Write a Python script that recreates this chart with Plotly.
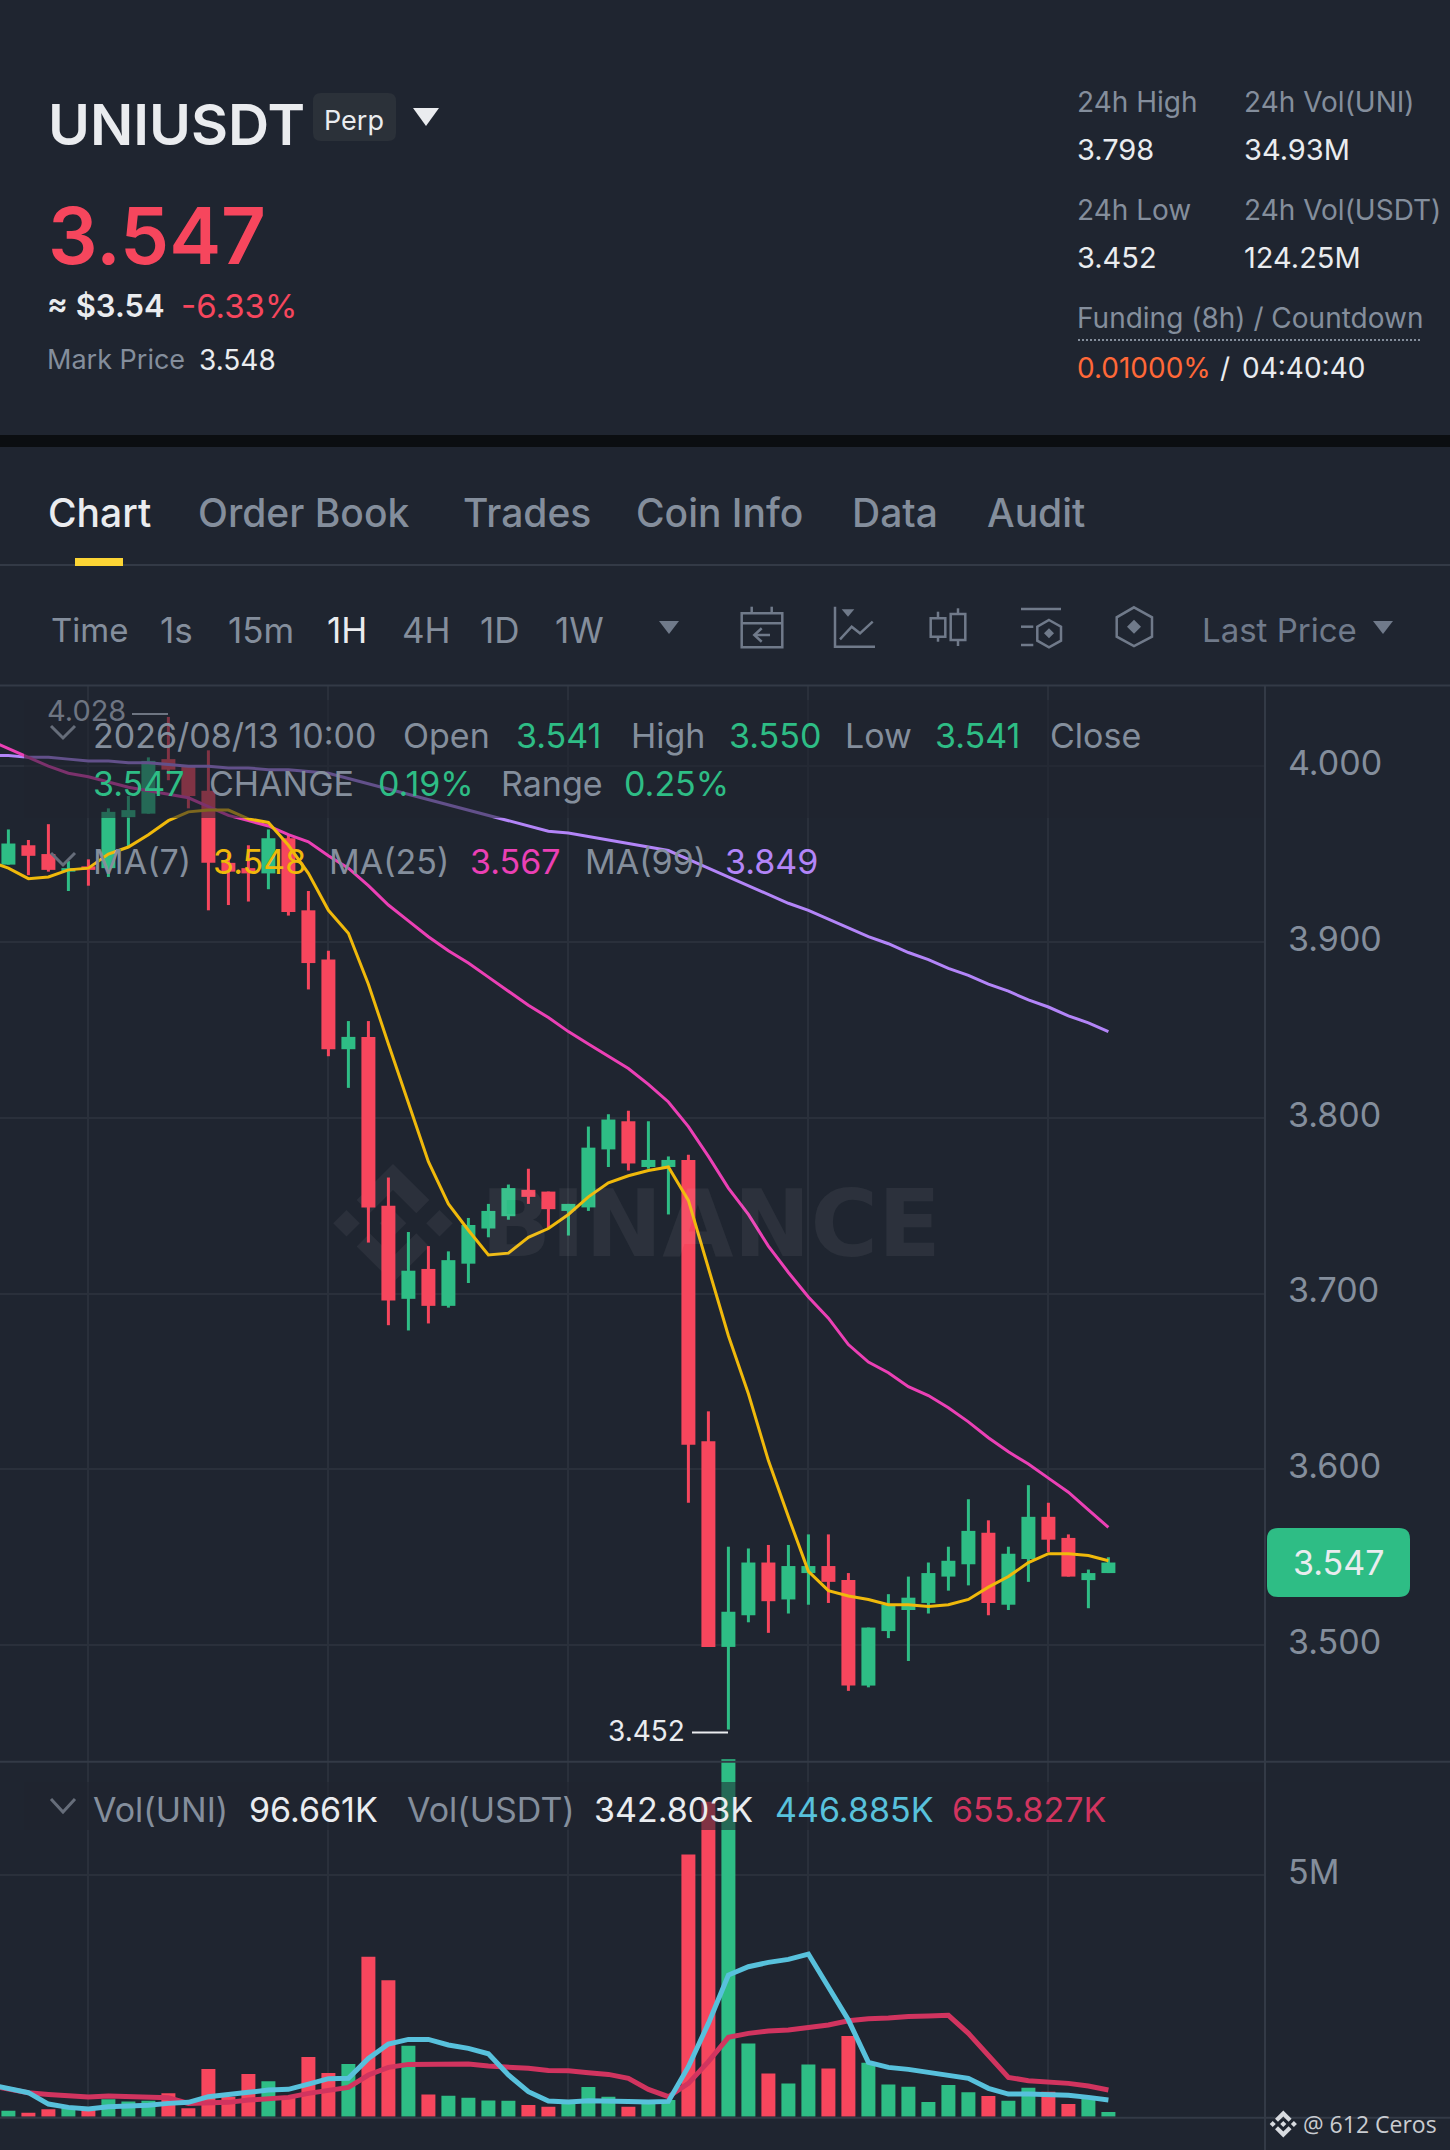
import plotly.graph_objects as go

W, H = 1450, 2150
BG = '#1f2530'
GRID = '#2a303b'
LINE = '#333a46'
GRAY = '#848e9c'
WHITE = '#eaecef'
RED = '#f6465d'
GREEN = '#2ebd85'
FONT = 'Inter'

# candles, oldest first
opens = [3.944, 3.955, 3.950, 3.940, 3.943, 3.942, 3.971, 3.973, 4.004, 4.000, 3.986, 3.945, 3.942, 3.939,
         3.959, 3.918, 3.890, 3.839, 3.846, 3.750, 3.697, 3.714, 3.693, 3.717, 3.737, 3.744, 3.759, 3.758,
         3.747, 3.749, 3.782, 3.798, 3.772, 3.772, 3.776, 3.616, 3.499, 3.517, 3.547, 3.526, 3.541, 3.545,
         3.537, 3.477, 3.508, 3.520, 3.524, 3.539, 3.546, 3.564, 3.523, 3.549, 3.573, 3.561, 3.537, 3.541]
highs = [3.964, 3.958, 3.967, 3.946, 3.947, 3.976, 3.983, 4.005, 4.028, 4.000, 4.009, 3.950, 3.955, 3.964,
         3.961, 3.929, 3.895, 3.855, 3.855, 3.766, 3.735, 3.727, 3.724, 3.743, 3.751, 3.762, 3.771, 3.758,
         3.751, 3.795, 3.802, 3.804, 3.798, 3.778, 3.779, 3.633, 3.556, 3.555, 3.557, 3.557, 3.563, 3.563,
         3.541, 3.510, 3.529, 3.539, 3.547, 3.556, 3.583, 3.571, 3.556, 3.591, 3.581, 3.563, 3.543, 3.550]
lows = [3.944, 3.938, 3.940, 3.929, 3.932, 3.937, 3.954, 3.973, 3.992, 3.976, 3.918, 3.921, 3.923, 3.930,
        3.915, 3.873, 3.835, 3.817, 3.729, 3.682, 3.679, 3.683, 3.692, 3.706, 3.732, 3.742, 3.751, 3.737,
        3.733, 3.747, 3.772, 3.770, 3.771, 3.745, 3.581, 3.499, 3.452, 3.513, 3.507, 3.518, 3.523, 3.524,
        3.474, 3.476, 3.504, 3.491, 3.518, 3.531, 3.534, 3.517, 3.520, 3.536, 3.553, 3.539, 3.521, 3.541]
closes = [3.956, 3.949, 3.941, 3.942, 3.941, 3.974, 3.975, 4.003, 3.998, 3.983, 3.945, 3.940, 3.939, 3.959,
          3.917, 3.888, 3.839, 3.846, 3.749, 3.696, 3.713, 3.693, 3.719, 3.739, 3.747, 3.760, 3.755, 3.748,
          3.751, 3.783, 3.799, 3.774, 3.776, 3.776, 3.614, 3.499, 3.519, 3.547, 3.525, 3.545, 3.545, 3.536,
          3.477, 3.510, 3.523, 3.527, 3.541, 3.548, 3.565, 3.524, 3.552, 3.573, 3.560, 3.539, 3.541, 3.547]

# moving averages start one candle earlier, it runs off the left edge
ma7 = [3.946, 3.942, 3.936, 3.937, 3.941, 3.942, 3.950, 3.954, 3.961, 3.969, 3.974, 3.975, 3.975, 3.970, 3.968,
       3.955, 3.939, 3.918, 3.905, 3.876, 3.842, 3.808, 3.775, 3.751, 3.736, 3.722, 3.723, 3.732, 3.737, 3.745,
       3.755, 3.763, 3.767, 3.770, 3.772, 3.753, 3.714, 3.676, 3.643, 3.605, 3.573, 3.542, 3.531, 3.528, 3.526,
       3.523, 3.523, 3.522, 3.523, 3.526, 3.533, 3.539, 3.547, 3.552, 3.552, 3.551, 3.548]
ma25 = [4.015, 4.010, 4.005, 4.000, 3.996, 3.994, 3.991, 3.988, 3.986, 3.984, 3.982, 3.977, 3.972, 3.969, 3.966,
        3.961, 3.957, 3.949, 3.942, 3.932, 3.921, 3.912, 3.903, 3.895, 3.888, 3.880, 3.872, 3.864, 3.857, 3.849,
        3.842, 3.835, 3.828, 3.819, 3.809, 3.795, 3.778, 3.760, 3.745, 3.727, 3.712, 3.698, 3.686, 3.671, 3.661,
        3.655, 3.647, 3.642, 3.635, 3.627, 3.618, 3.610, 3.603, 3.595, 3.587, 3.577, 3.567]
ma99 = [4.006, 4.006, 4.005, 4.005, 4.004, 4.003, 4.003, 4.002, 4.002, 4.001, 4.000, 4.000, 3.999, 3.999, 3.998,
        3.998, 3.997, 3.996, 3.993, 3.990, 3.987, 3.984, 3.981, 3.978, 3.975, 3.972, 3.969, 3.966, 3.963, 3.962,
        3.960, 3.958, 3.956, 3.954, 3.952, 3.947, 3.942, 3.937, 3.932, 3.927, 3.922, 3.918, 3.913, 3.908, 3.903,
        3.899, 3.894, 3.890, 3.885, 3.881, 3.876, 3.872, 3.867, 3.863, 3.858, 3.854, 3.849]

# volume in millions
volume = [0.124, 0.083, 0.152, 0.22, 0.173, 0.359, 0.317, 0.331, 0.483, 0.173, 0.987, 0.414, 0.883, 0.732,
          0.40, 1.235, 0.904, 1.09, 3.313, 2.823, 1.47, 0.462, 0.435, 0.393, 0.338, 0.331, 0.242, 0.207,
          0.276, 0.614, 0.414, 0.207, 0.276, 0.345, 5.431, 6.522, 7.40, 1.518, 0.897, 0.69, 1.083, 1.0,
          1.67, 1.118, 0.669, 0.621, 0.304, 0.656, 0.504, 0.428, 0.331, 0.60, 0.518, 0.262, 0.414, 0.097]
vol_ma_fast = [0.669, 0.587, 0.497, 0.262, 0.193, 0.159, 0.207, 0.221, 0.235, 0.276, 0.297, 0.414, 0.449, 0.504, 0.552,
               0.566, 0.676, 0.787, 0.794, 1.208, 1.504, 1.601, 1.601, 1.484, 1.415, 1.304, 0.863, 0.518, 0.324, 0.304,
               0.331, 0.331, 0.317, 0.304, 0.317, 1.035, 1.932, 2.933, 3.106, 3.195, 3.257, 3.368, 2.692, 2.001, 1.125,
               1.021, 0.98, 0.925, 0.863, 0.794, 0.587, 0.469, 0.469, 0.455, 0.442, 0.40, 0.345]
vol_ma_slow = [0.649, 0.566, 0.497, 0.462, 0.428, 0.407, 0.428, 0.414, 0.414, 0.393, 0.276, 0.29, 0.297, 0.345, 0.38,
               0.40, 0.483, 0.538, 0.607, 0.863, 1.021, 1.083, 1.077, 1.077, 1.09, 1.049, 1.035, 1.001, 0.959, 0.952,
               0.911, 0.876, 0.794, 0.566, 0.414, 0.69, 1.139, 1.643, 1.725, 1.774, 1.794, 1.85, 1.898, 1.988, 2.029,
               2.043, 2.077, 2.084, 2.098, 1.725, 1.277, 0.814, 0.745, 0.725, 0.69, 0.635, 0.552]

price_ticks = [4.0, 3.9, 3.8, 3.7, 3.6, 3.5]
time_ticks = [4, 16, 28, 40, 52]
tabs = ['Chart', 'Order Book', 'Trades', 'Coin Info', 'Data', 'Audit']
intervals = ['Time', '1s', '15m', '1H', '4H', '1D', '1W']

candle_x = list(range(len(opens)))
ma_x = list(range(-1, len(opens)))
candle_colors = [GREEN if c >= o else RED for o, c in zip(opens, closes)]


def px(x):
    return x / W


def py(y):
    return 1 - y / H


annotations = []
shapes = []


def label(x, y, text, size=28, color=GRAY, weight=400, anchor='left', family=FONT):
    if anchor == 'left':
        x -= 2
    annotations.append(dict(x=px(x), y=py(y), xref='paper', yref='paper', text=text, showarrow=False,
                            xanchor=anchor, yanchor='middle', borderpad=0,
                            font=dict(family=family, size=size, color=color, weight=weight)))


def rect(x0, y0, x1, y1, color, layer='above', radius=0):
    if radius:
        r = radius
        path = (f'M {px(x0 + r)},{py(y0)} L {px(x1 - r)},{py(y0)} Q {px(x1)},{py(y0)} {px(x1)},{py(y0 + r)} '
                f'L {px(x1)},{py(y1 - r)} Q {px(x1)},{py(y1)} {px(x1 - r)},{py(y1)} '
                f'L {px(x0 + r)},{py(y1)} Q {px(x0)},{py(y1)} {px(x0)},{py(y1 - r)} '
                f'L {px(x0)},{py(y0 + r)} Q {px(x0)},{py(y0)} {px(x0 + r)},{py(y0)} Z')
        shapes.append(dict(type='path', xref='paper', yref='paper', path=path, fillcolor=color, line_width=0, layer=layer))
    else:
        shapes.append(dict(type='rect', xref='paper', yref='paper', x0=px(x0), y0=py(y0), x1=px(x1), y1=py(y1),
                           fillcolor=color, line_width=0, layer=layer))


def poly(points, color=None, line=None, width=2.5, close=False, layer='above', dash=None):
    path = 'M ' + ' L '.join(f'{px(x)},{py(y)}' for x, y in points) + (' Z' if close else '')
    shapes.append(dict(type='path', xref='paper', yref='paper', path=path, layer=layer,
                       fillcolor=color if color else 'rgba(0,0,0,0)',
                       line=dict(color=line if line else 'rgba(0,0,0,0)', width=width if line else 0, dash=dash)))


def binance_logo(cx, cy, s, color, layer):
    # 59.3 is the half height of the big watermark mark
    k = s / 59.3

    def pts(rows):
        return [(cx + a * k, cy + b * k) for a, b in rows]

    for dx in (-46.5, 0, 46.5):
        poly(pts([(dx - 13.3, 0), (dx, -13.3), (dx + 13.3, 0), (dx, 13.3)]), color=color, layer=layer)
    chevron = [(0, -59.3), (36.3, -23.3), (23.3, -10), (0, -33.3), (-23.3, -10), (-36.3, -23.3)]
    poly(pts(chevron), color=color, layer=layer)
    poly(pts([(a, -b) for a, b in chevron]), color=color, layer=layer)


# header
label(49, 124, 'UNIUSDT', 57, WHITE, 600)
rect(313, 93, 396, 141, '#2b3139', radius=8)
label(325, 120, 'Perp', 27, WHITE)
poly([(413, 108), (439, 108), (426, 126)], color=WHITE)
label(49, 235, '3.547', 78, RED, 600)
label(48, 306, '≈ $3.54', 31, WHITE, 600)
label(182, 306, '-6.33%', 33, RED)
label(48, 360, 'Mark Price', 27)
label(200, 360, '3.548', 28, WHITE)

label(1078, 102, '24h High', 28)
label(1245, 102, '24h Vol(UNI)', 28)
label(1078, 149, '3.798', 29, WHITE)
label(1245, 149, '34.93M', 29, WHITE)
label(1078, 210, '24h Low', 28)
label(1245, 210, '24h Vol(USDT)', 28)
label(1078, 257, '3.452', 29, WHITE)
label(1245, 257, '124.25M', 29, WHITE)
label(1078, 318, 'Funding (8h) / Countdown', 28)
poly([(1078, 340), (1422, 340)], line=GRAY, width=2, dash='2px,2px')
label(1078, 368, '0.01000%', 28, '#ff6838')
label(1221, 368, '/', 28, WHITE)
label(1243, 368, '04:40:40', 28, WHITE)

rect(0, 435, W, 447, '#0b0e11')

# tabs and toolbar
for x, text in zip([49, 199, 464, 637, 853, 988], tabs):
    label(x, 512, text, 39, WHITE if text == 'Chart' else GRAY, 500)
rect(75, 558, 123, 566, '#fcd535')
rect(0, 564, 75, 566, LINE)
rect(123, 564, W, 566, LINE)

for x, text in zip([52, 161, 229, 328, 403, 481, 556], intervals):
    label(x, 630, text, 33 if text == 'Time' else 35, WHITE if text == '1H' else GRAY)
poly([(659, 621), (679, 621), (669, 634)], color='#707a8a')
label(1203, 630, 'Last Price', 33, '#707a8a')
poly([(1373, 621), (1393, 621), (1383, 634)], color='#707a8a')

ICON = '#707a8a'
poly([(741.7, 613.3), (782.3, 613.3), (782.3, 647.3), (741.7, 647.3)], line=ICON, close=True)
poly([(741.7, 623.3), (782.3, 623.3)], line=ICON)
poly([(751.7, 606.7), (751.7, 613.3)], line=ICON)
poly([(771.7, 606.7), (771.7, 613.3)], line=ICON)
poly([(770, 635), (755, 635)], line=ICON)
poly([(761.7, 628.3), (754.3, 635), (761.7, 641.7)], line=ICON)
poly([(835, 606.7), (835, 646.7), (875, 646.7)], line=ICON)
poly([(840, 639.3), (851.7, 626.7), (860, 633.3), (872.7, 621.7)], line=ICON)
poly([(841.7, 609.3), (854.3, 609.3), (848, 616.7)], color=ICON)
poly([(930.7, 618.3), (945.3, 618.3), (945.3, 636.7), (930.7, 636.7)], line=ICON, close=True)
poly([(938, 611.7), (938, 618.3)], line=ICON)
poly([(938, 636.7), (938, 641.7)], line=ICON)
poly([(950.7, 614), (965.3, 614), (965.3, 640), (950.7, 640)], line=ICON, close=True)
poly([(958, 608.3), (958, 614)], line=ICON)
poly([(958, 640), (958, 646)], line=ICON)
poly([(1021, 609), (1061, 609)], line=ICON)
poly([(1021, 626.7), (1033.3, 626.7)], line=ICON)
poly([(1021, 645), (1033.3, 645)], line=ICON)
poly([(1049, 620), (1061, 626.7), (1061, 640.7), (1049, 647.3), (1037.3, 640.7), (1037.3, 626.7)], line=ICON, close=True)
poly([(1049, 628.3), (1054, 633.3), (1049, 638.3), (1044, 633.3)], color=ICON)
poly([(1134, 607.3), (1152, 617.3), (1152, 636.7), (1134, 646), (1116.7, 636.7), (1116.7, 617.3)], line=ICON, close=True)
poly([(1134, 619.7), (1141, 626.7), (1134, 633.7), (1127, 626.7)], color=ICON)

# panel frame
rect(0, 684.5, W, 686.5, LINE)
rect(0, 1760.7, W, 1762.7, LINE)
rect(0, 2116.7, W, 2118.7, LINE)
rect(1264, 686, 1266, H, LINE)

# watermark
binance_logo(393, 1223.3, 59.3, '#2b303b', 'below')
label(482, 1224, 'BINANCE', 92, 'rgba(255,255,255,0.06)', 700, family='DejaVu Sans')

# legend rows sit on a half transparent strip
STRIP = 'rgba(31,37,48,0.55)'
rect(24, 700, 1264, 818, STRIP)
rect(24, 1782, 1264, 1830, STRIP)

label(48, 710, '4.028', 29, '#6e7582')
poly([(132, 714), (168, 714)], line='#6e7582', width=2)

for y in (0, 127):
    poly([(51, 726 + y), (63, 738 + y), (75, 726 + y)], line='#666d7a', width=3)
poly([(51, 1799), (63, 1812), (75, 1799)], line='#666d7a', width=3)

ROW = 34
for x, text, color in [(94, '2026/08/13 10:00', GRAY), (404, 'Open', GRAY), (517, '3.541', GREEN), (632, 'High', GRAY),
                       (730, '3.550', GREEN), (846, 'Low', GRAY), (936, '3.541', GREEN), (1051, 'Close', GRAY)]:
    label(x, 735, text, ROW, color)
for x, text, color in [(94, '3.547', GREEN), (210, 'CHANGE', GRAY), (379, '0.19%', GREEN), (502, 'Range', GRAY),
                       (625, '0.25%', GREEN)]:
    label(x, 783, text, ROW, color)
for x, text, color in [(94, 'MA(7)', GRAY), (214, '3.548', '#f0b90b'), (330, 'MA(25)', GRAY), (471, '3.567', '#eb40b5'),
                       (586, 'MA(99)', GRAY), (726, '3.849', '#b385f8')]:
    label(x, 861, text, ROW, color)
for x, text, color in [(94, 'Vol(UNI)', GRAY), (250, '96.661K', WHITE), (408, 'Vol(USDT)', GRAY), (595, '342.803K', WHITE),
                       (776, '446.885K', '#58c1dc'), (953, '655.827K', '#d1345f')]:
    label(x, 1809, text, ROW, color)

label(609, 1731, '3.452', 28, WHITE)
poly([(692, 1732.6), (728, 1732.6)], line=WHITE, width=2)

rect(1267, 1528, 1410, 1597, GREEN, radius=11)
label(1338.5, 1562, '3.547', 34, WHITE, anchor='center')

binance_logo(1283.3, 2124, 13.5, '#d8dbe0', 'above')
label(1303.5, 2124, '@ 612 Ceros', 23, '#c9ccd1', family='Open Sans')

fig = go.Figure()
# candles as floating bars, go.Candlestick body width cannot be set
fig.add_trace(go.Bar(x=candle_x, y=[h - l for h, l in zip(highs, lows)], base=lows, width=0.15,
                     marker=dict(color=candle_colors, line_width=0), xaxis='x', yaxis='y'))
fig.add_trace(go.Bar(x=candle_x, y=[abs(o - c) for o, c in zip(opens, closes)],
                     base=[min(o, c) for o, c in zip(opens, closes)], width=0.7,
                     marker=dict(color=candle_colors, line_width=0), xaxis='x', yaxis='y'))
for values, color in [(ma99, '#b385f8'), (ma25, '#eb40b5'), (ma7, '#f0b90b')]:
    fig.add_trace(go.Scatter(x=ma_x, y=values, mode='lines', line=dict(color=color, width=3), xaxis='x', yaxis='y'))

fig.add_trace(go.Bar(x=candle_x, y=volume, marker=dict(color=candle_colors, line_width=0), width=0.7, xaxis='x2', yaxis='y2'))
for values, color in [(vol_ma_slow, '#d1345f'), (vol_ma_fast, '#58c1dc')]:
    fig.add_trace(go.Scatter(x=ma_x, y=values, mode='lines', line=dict(color=color, width=5), xaxis='x2', yaxis='y2'))

x_range = [-0.42, 62.83]
axis_font = dict(family=FONT, size=34, color=GRAY)
fig.update_layout(
    width=W, height=H, autosize=False, showlegend=False, barmode='overlay',
    margin=dict(l=0, r=0, t=0, b=0, pad=0),
    paper_bgcolor=BG, plot_bgcolor=BG,
    xaxis=dict(domain=[0, 1265 / W], range=x_range, anchor='y', tickvals=time_ticks,
               showticklabels=False, showgrid=True, gridcolor=GRID, gridwidth=2, zeroline=False, showline=False, ticks=''),
    yaxis=dict(domain=[py(1761), py(686)], range=[3.4341, 4.0456], side='right', anchor='x', tickvals=price_ticks,
               tickformat='.3f', tickfont=axis_font, ticklabelstandoff=22, ticklabelshift=-3, showgrid=True,
               gridcolor=GRID, gridwidth=2, zeroline=False, showline=False, ticks=''),
    xaxis2=dict(domain=[0, 1265 / W], range=x_range, anchor='y2', tickvals=time_ticks, showticklabels=False,
                showgrid=True, gridcolor=GRID, gridwidth=2, zeroline=False, showline=False, ticks=''),
    yaxis2=dict(domain=[py(2116.7), py(1758)], range=[0, 7.427], side='right', anchor='x2', tickvals=[5], ticktext=['5M'],
                tickfont=axis_font, ticklabelstandoff=22, ticklabelshift=-3, showgrid=True, gridcolor=GRID, gridwidth=2,
                zeroline=False, showline=False, ticks=''),
    shapes=shapes, annotations=annotations,
)

fig.write_html("out.html", config={'displayModeBar': False},
               post_script="document.body.style.margin='0';document.body.style.background='" + BG + "';")
